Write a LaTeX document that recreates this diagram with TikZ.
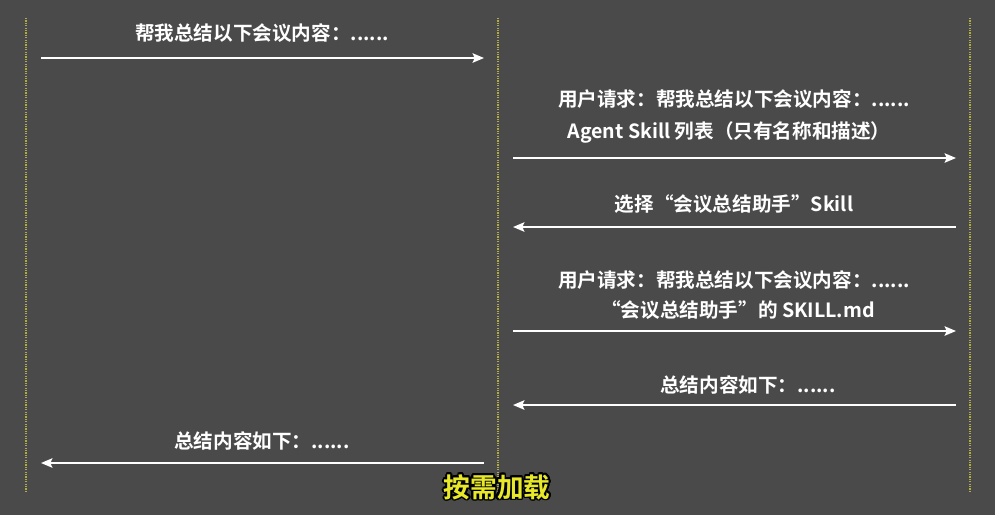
\documentclass[tikz,border=0pt]{standalone}
\usepackage{fontspec}
\setmainfont{Noto Sans CJK SC}[BoldFont={* Bold}]
\newfontfamily\cjkb{Noto Sans CJK SC Bold}
\usepackage{contour}
\contourlength{1.3pt}
\usetikzlibrary{arrows.meta}
\definecolor{bg}{HTML}{4A4A4A}
\definecolor{lifeline}{HTML}{B2AC48}
\definecolor{hl}{HTML}{E8E82A}
\tikzset{
  lbl/.style={anchor=base, inner sep=0pt, text=white, font=\cjkb\fontsize{14.7pt}{16pt}\selectfont},
  msg/.style={draw=white, line width=1.5pt, -{Stealth[length=8.5pt,width=7pt,inset=1.5pt]}},
  life/.style={draw=lifeline, line width=1.4pt, dash pattern=on 0.9pt off 0.9pt},
}
\begin{document}
\begin{tikzpicture}[x=0.75pt,y=-0.75pt]
\fill[bg] (0,0) rectangle (995,515);
\useasboundingbox (0,0) rectangle (995,515);
% lifelines
\coordinate (Atop) at (26,18); \coordinate (Abot) at (26,492);
\coordinate (Btop) at (498,18); \coordinate (Bbot) at (498,492);
\coordinate (Ctop) at (970,18); \coordinate (Cbot) at (970,492);
\draw[life] (Atop) -- (Abot);
\draw[life] (Btop) -- (Bbot);
\draw[life] (Ctop) -- (Cbot);
% message endpoints
\foreach \n/\y in {1/58,2/158,3/227,4/331,5/405,6/463}{
  \coordinate (A\n) at (26,\y);
  \coordinate (B\n) at (498,\y);
  \coordinate (C\n) at (970,\y);
}
\draw[msg, shorten <=11.25pt, shorten >=10.5pt] (A1) -- (B1);
\draw[msg, shorten <=11.25pt, shorten >=10.5pt] (B2) -- (C2);
\draw[msg, shorten <=10.5pt, shorten >=11.25pt] (C3) -- (B3);
\draw[msg, shorten <=11.25pt, shorten >=10.5pt] (B4) -- (C4);
\draw[msg, shorten <=10.5pt, shorten >=11.25pt] (C5) -- (B5);
\draw[msg, shorten <=10.5pt, shorten >=11.25pt] (B6) -- (A6);
% labels
\node[lbl] (t1) at (262,40) {帮我总结以下会议内容：......};
\node[lbl] (t2) at (734,106) {用户请求：帮我总结以下会议内容：......};
\node[lbl] (t3) at (729,138) {Agent Skill 列表（只有名称和描述）};
\node[lbl] (t4) at (734,211) {选择“会议总结助手”Skill};
\node[lbl] (t5) at (734,287) {用户请求：帮我总结以下会议内容：......};
\node[lbl] (t6) at (738,317) {“会议总结助手”的 SKILL.md};
\node[lbl] (t7) at (748,392) {总结内容如下：......};
\node[lbl] (t8) at (262,448) {总结内容如下：......};
\node[anchor=base, inner sep=0pt, font=\cjkb\fontsize{20pt}{22pt}\selectfont] (cap) at (497,497) {\contour{black}{\textcolor{hl}{按需加载}}};
\end{tikzpicture}
\end{document}
